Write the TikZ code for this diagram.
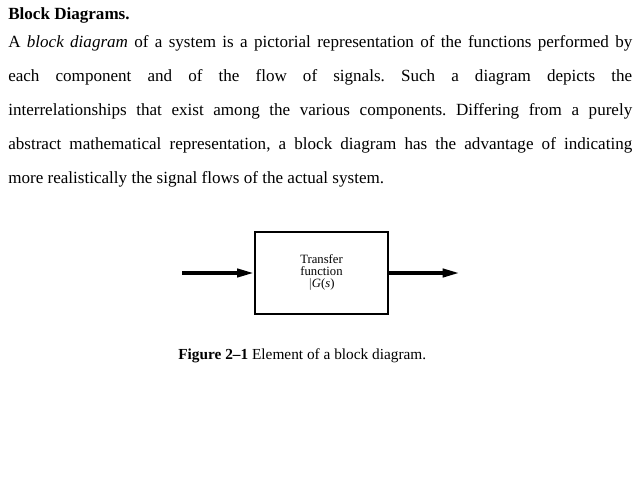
\documentclass[tikz,border=0pt]{standalone}
\usepackage{fontspec}
\setmainfont{Liberation Serif}
\usetikzlibrary{arrows.meta}
\begin{document}
\frenchspacing
\begin{tikzpicture}[x=0.75pt,y=-0.75pt,
  para/.style={anchor=north west,inner sep=0pt,text width=468pt,align=justify,font=\fontsize{12.8pt}{25.5pt}\selectfont},
  sig/.style={line width=2.8pt,-{Triangle[length=13pt,width=6pt]}},
  blk/.style={draw,line width=0.8pt,minimum width=99.75pt,minimum height=61.5pt,inner sep=0pt,align=center,font=\fontsize{9.5pt}{9pt}\selectfont}]
\useasboundingbox (0,0) rectangle (638,478);
\node[anchor=base west,inner sep=0pt,font=\fontsize{12.8pt}{14pt}\selectfont\bfseries] (h) at (8,20) {Block Diagrams.};
\node[para] (p) at (8,35) {A \textit{block diagram} of a system is a pictorial representation of the functions performed by\linebreak each component and of the flow of signals. Such a diagram depicts the\linebreak interrelationships that exist among the various components. Differing from a purely\linebreak abstract mathematical representation, a block diagram has the advantage of indicating\linebreak more realistically the signal flows of the actual system.\par};
\node[blk] (b) at (321.5,273) {Transfer\\function\\$|$\textit{G}(\textit{s})};
\coordinate (in) at (182,273);
\coordinate (out) at (460,273);
\draw[sig] (in) -- (b.west);
\draw[sig] (b.east) -- (out);
\node[anchor=base west,inner sep=0pt,font=\fontsize{11.5pt}{13pt}\selectfont] (c) at (178,359) {\textbf{Figure 2–1} Element of a block diagram.};
\end{tikzpicture}
\end{document}
